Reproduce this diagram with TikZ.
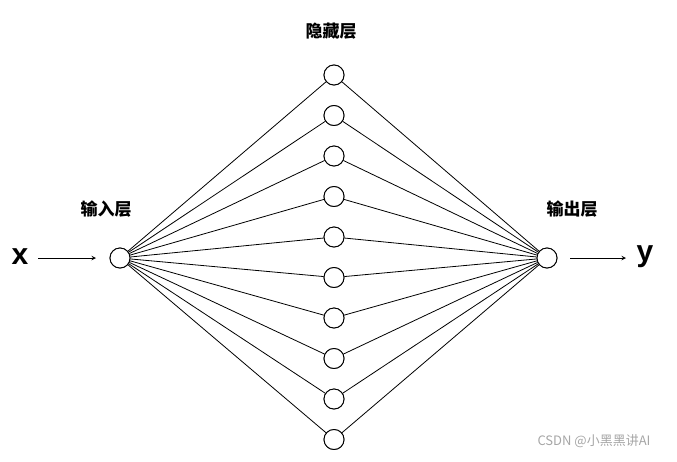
\documentclass[tikz,border=0pt]{standalone}
\usepackage{fontspec}
\setmainfont{Liberation Sans}
\newfontfamily\cjk{Noto Sans CJK SC}
\begin{document}
\begin{tikzpicture}[x=1pt,y=-1pt,
  neuron/.style={circle,draw,line width=0.9pt,minimum size=20pt,inner sep=0pt,fill=white},
  lbl/.style={font=\cjk\bfseries\fontsize{17}{20}\selectfont},
  var/.style={font=\bfseries\fontsize{30}{32}\selectfont},
  arr/.style={-stealth,line width=1pt}]
\useasboundingbox (0,0) rectangle (677,461);
\node[neuron] (in) at (120,258) {};
\node[neuron] (out) at (547,258) {};
\foreach \i in {0,...,9}{
  \node[neuron] (h\i) at (334,{75+\i*40.5}) {};
}
\foreach \i in {0,...,9}{
  \draw[line width=0.8pt] (in) -- (h\i);
  \draw[line width=0.8pt] (h\i) -- (out);
}
\foreach \i in {0,...,9}{\node[neuron] at (h\i) {};}
\node[neuron] at (in) {};
\node[neuron] at (out) {};
\node[lbl] (lh) at (331,31) {隐藏层};
\node[lbl] (li) at (106,209) {输入层};
\node[lbl] (lo) at (572,209) {输出层};
\node[var] (x) at (20,257) {x};
\node[var] (y) at (645,257) {y};
\coordinate (xs) at (38,258);
\coordinate (xe) at (96,258);
\coordinate (ys) at (570,258);
\coordinate (ye) at (626,258);
\draw[arr] (xs) -- (xe);
\draw[arr] (ys) -- (ye);
\node[font=\cjk\fontsize{13}{15}\selectfont,text=gray!70] (wm) at (594,441) {CSDN @小黑黑讲AI};
\end{tikzpicture}
\end{document}
